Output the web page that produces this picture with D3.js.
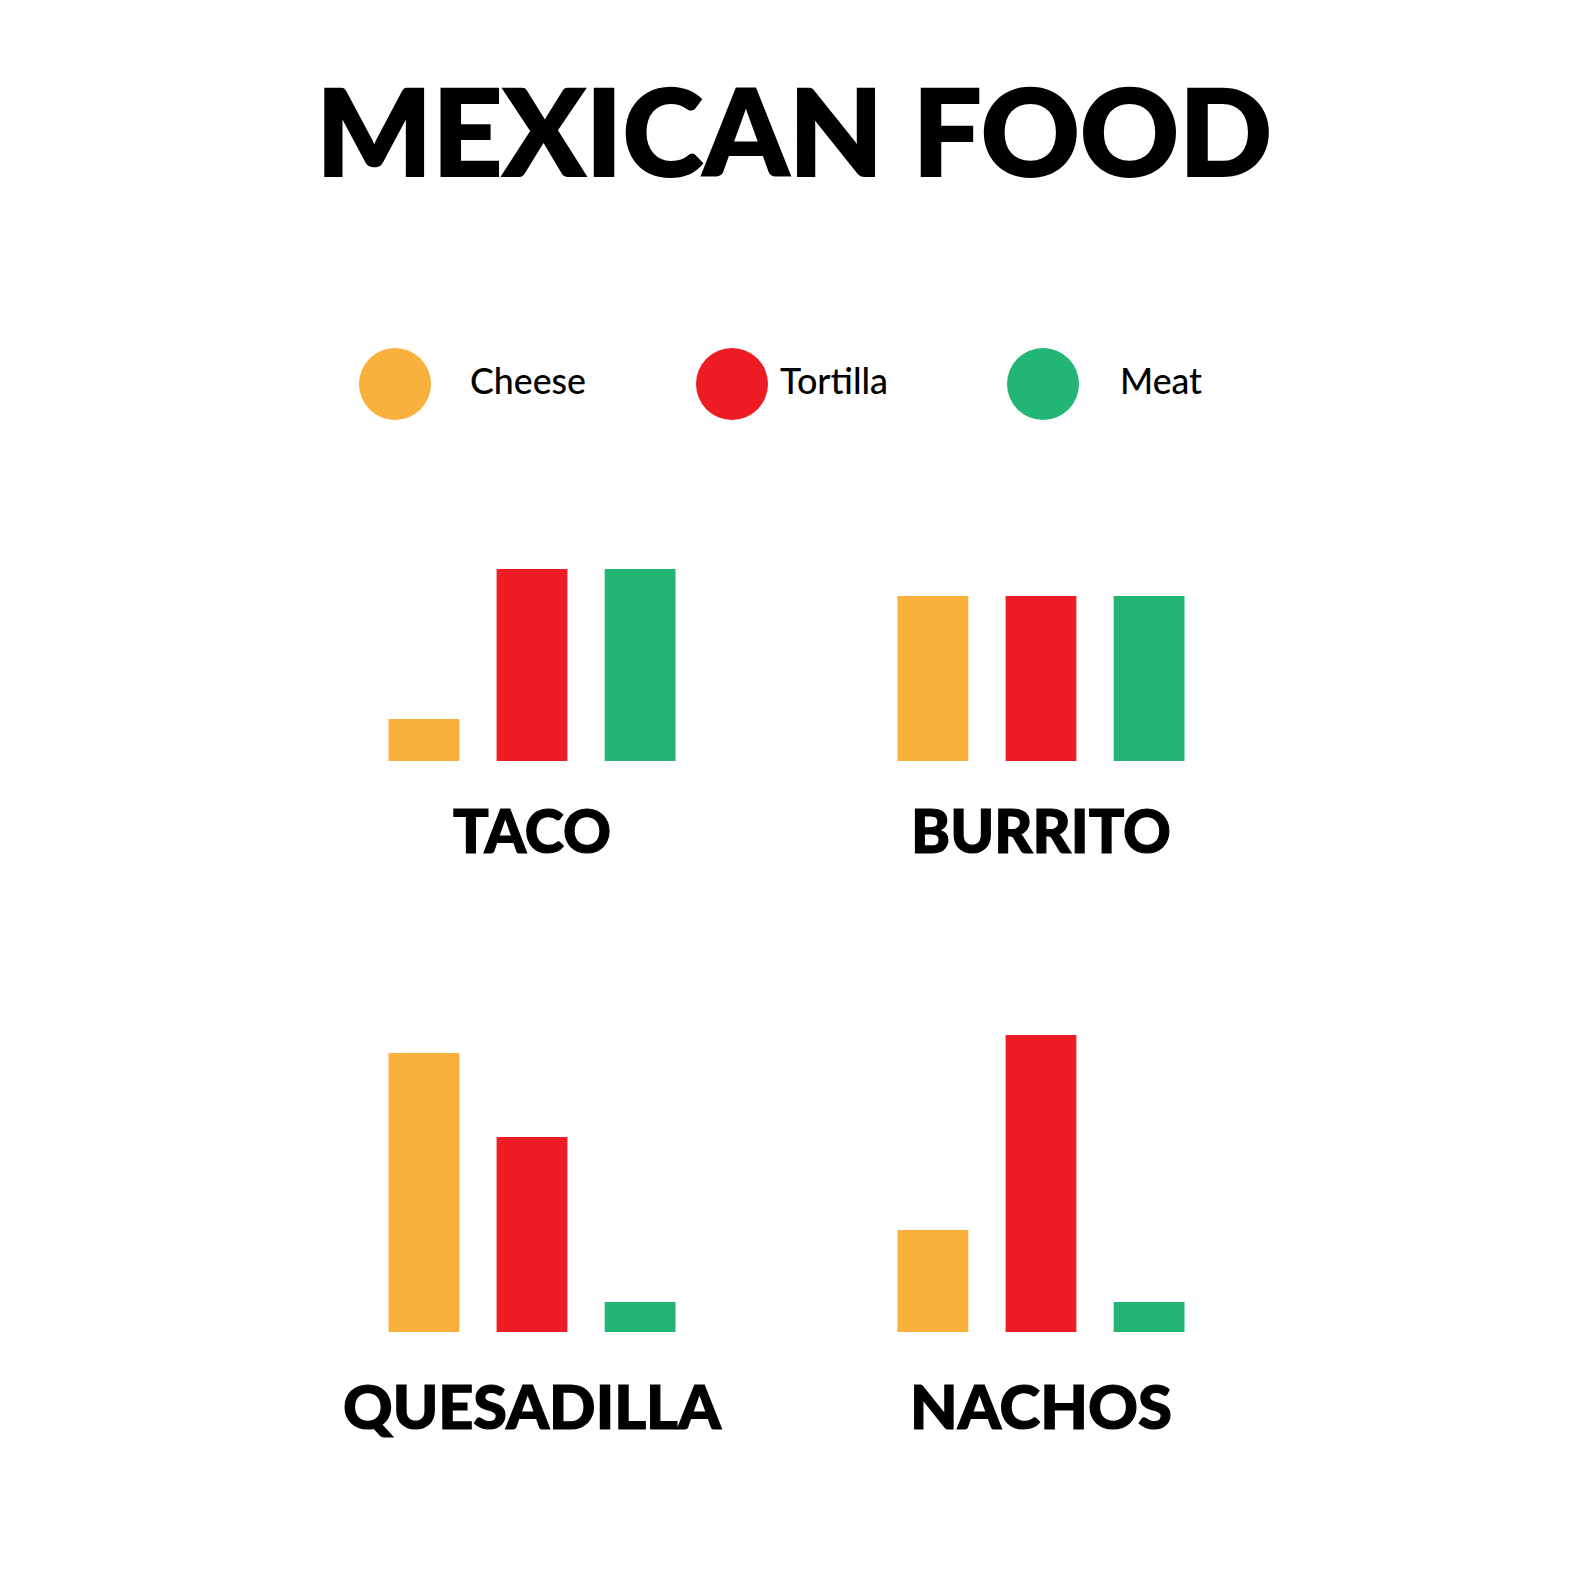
<!DOCTYPE html>
<html>
<head>
<meta charset="utf-8">
<script src="https://cdn.jsdelivr.net/npm/d3@7/dist/d3.min.js"></script>
<style>
  html, body { margin: 0; padding: 0; background: #fff; }
  svg { display: block; }
</style>
</head>
<body>
<svg id="chart" width="1588" height="1596"></svg>
<script>
/* data */
const ingredients = ["Cheese", "Tortilla", "Meat"];
const dishes      = ["TACO", "BURRITO", "QUESADILLA", "NACHOS"];
const cheese      = [14, 55, 93, 34];
const tortilla    = [64, 55, 65, 99];
const meat        = [64, 55, 10, 10];
const colors      = ["#f9b03c", "#ed1c24", "#23b574"];

/* layout */
const W = 1588, H = 1596;
const colCenters = [532, 1041];
const rowBase    = [761, 1332];
const labelDy    = [92, 97];
const panelWidth = 287;
const maxBarH    = 300;
const titleFont  = "'Lato Black', 'Lato', 'DejaVu Sans', sans-serif";

const svg = d3.select("#chart");
svg.append("rect").attr("width", W).attr("height", H).attr("fill", "#fff");

// Title (light stroke thickens it toward the heavy face of the original)
svg.append("text")
  .attr("x", 316).attr("y", 176)
  .attr("textLength", 956).attr("lengthAdjust", "spacingAndGlyphs")
  .attr("font-family", titleFont).attr("font-weight", 900).attr("font-size", 120)
  .attr("fill", "#000").attr("stroke", "#000").attr("stroke-width", 2)
  .text("MEXICAN FOOD");

// Legend
const legendCx = [395, 732, 1043];
const legendTx = [470, 780, 1120];
const legendTw = [116, 108, 82];
const legend = svg.append("g");
ingredients.forEach((name, i) => {
  legend.append("circle")
    .attr("cx", legendCx[i]).attr("cy", 384).attr("r", 36)
    .attr("fill", colors[i]);
  legend.append("text")
    .attr("x", legendTx[i]).attr("y", 394)
    .attr("textLength", legendTw[i]).attr("lengthAdjust", "spacingAndGlyphs")
    .attr("font-family", "'Lato', sans-serif").attr("font-weight", 500).attr("font-size", 37)
    .attr("fill", "#000")
    .text(name);
});

// Small multiples
const y = d3.scaleLinear().domain([0, 100]).range([0, maxBarH]);
const labelW = [158, 260, 378, 262];

dishes.forEach((dish, d) => {
  const col = d % 2, row = Math.floor(d / 2);
  const cx = colCenters[col], base = rowBase[row];
  const x = d3.scaleBand()
    .domain(ingredients)
    .range([cx - panelWidth / 2, cx + panelWidth / 2])
    .paddingInner(0.345).paddingOuter(0);

  const vals = [cheese[d], tortilla[d], meat[d]];
  const g = svg.append("g").attr("class", "panel");

  g.selectAll("rect")
    .data(ingredients.map((k, i) => ({ k, v: vals[i], c: colors[i] })))
    .join("rect")
      .attr("x", p => x(p.k))
      .attr("width", x.bandwidth())
      .attr("y", p => base - y(p.v))
      .attr("height", p => y(p.v))
      .attr("fill", p => p.c);

  g.append("text")
    .attr("x", cx).attr("y", base + labelDy[row])
    .attr("text-anchor", "middle")
    .attr("textLength", labelW[d]).attr("lengthAdjust", "spacingAndGlyphs")
    .attr("font-family", titleFont).attr("font-weight", 900).attr("font-size", 60)
    .attr("fill", "#000").attr("stroke", "#000").attr("stroke-width", 1.2)
    .text(dish);
});
</script>
</body>
</html>
